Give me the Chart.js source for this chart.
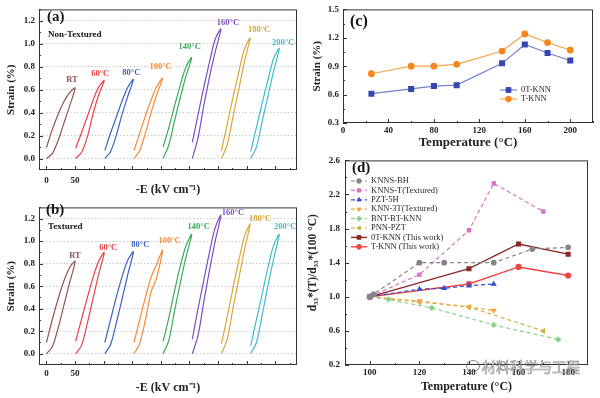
<!DOCTYPE html>
<html>
<head>
<meta charset="utf-8">
<script src="https://cdn.jsdelivr.net/npm/chart.js@4.4.1/dist/chart.umd.min.js"></script>
<style>
    body { margin: 0; background: #fff; overflow: hidden; }
    #fig { position: relative; width: 600px; height: 398px; overflow: hidden; background: #fff; }
    #fig canvas { position: absolute; }
    .wm { position: absolute; left: 482px; top: 356px; font: 14px "Noto Sans CJK SC", sans-serif;
          color: rgba(255,255,255,0.55); -webkit-text-stroke: 0.6px rgba(90,90,90,0.75); letter-spacing: 0px; }
    .wm-icon { position: absolute; left: 466px; top: 360px; width: 12px; height: 10px;
               border: 1px solid rgba(90,90,90,0.7); border-radius: 50%; }
</style>
</head>
<body>
<div id="fig">
    <canvas id="chartA" width="300" height="198" style="left:0;top:0"></canvas>
    <canvas id="chartB" width="300" height="200" style="left:0;top:198px"></canvas>
    <canvas id="chartC" width="300" height="150" style="left:300px;top:0"></canvas>
    <canvas id="chartD" width="300" height="248" style="left:300px;top:150px"></canvas>
    <div class="wm-icon"></div>
    <div class="wm">材料科学与工程</div>
</div>
<script>
// ---- (a)/(b) unipolar strain loops, one per temperature, shifted along E ----
const loopLabels = ['RT', '60°C', '80°C', '100°C', '140°C', '160°C', '180°C', '200°C'];
const loopShift = [0, 51, 102, 153, 204, 255, 306, 357];
const fieldUp = [0, 10, 20, 30, 40, 50];
const fieldDown = [40, 30, 20, 10, 0];

// non-textured
const strainUpA = [
    [0, 0.04, 0.15, 0.30, 0.45, 0.615],
    [0, 0.05, 0.18, 0.38, 0.55, 0.68],
    [0, 0.06, 0.20, 0.38, 0.54, 0.69],
    [0, 0.07, 0.22, 0.40, 0.56, 0.70],
    [0, 0.12, 0.33, 0.53, 0.72, 0.88],
    [0, 0.18, 0.46, 0.71, 0.93, 1.13],
    [0, 0.12, 0.36, 0.60, 0.84, 1.05],
    [0, 0.10, 0.32, 0.54, 0.76, 0.96]
];
const strainDownA = [
    [0.57, 0.49, 0.38, 0.25, 0.095],
    [0.62, 0.50, 0.36, 0.22, 0.09],
    [0.62, 0.50, 0.36, 0.22, 0.07],
    [0.63, 0.51, 0.37, 0.22, 0.07],
    [0.80, 0.64, 0.46, 0.27, 0.10],
    [1.04, 0.84, 0.62, 0.38, 0.14],
    [0.95, 0.75, 0.53, 0.30, 0.07],
    [0.87, 0.68, 0.48, 0.27, 0.06]
];
// textured
const strainUpB = [
    [0, 0.06, 0.22, 0.42, 0.62, 0.82],
    [0, 0.07, 0.26, 0.48, 0.70, 0.90],
    [0, 0.08, 0.27, 0.48, 0.70, 0.905],
    [0, 0.09, 0.30, 0.55, 0.68, 0.92],
    [0, 0.12, 0.38, 0.63, 0.86, 1.06],
    [0, 0.16, 0.46, 0.74, 1.00, 1.23],
    [0, 0.13, 0.40, 0.66, 0.92, 1.15],
    [0, 0.10, 0.34, 0.60, 0.84, 1.06]
];
const strainDownB = [
    [0.76, 0.64, 0.48, 0.30, 0.10],
    [0.82, 0.67, 0.49, 0.30, 0.11],
    [0.83, 0.68, 0.50, 0.30, 0.10],
    [0.80, 0.68, 0.50, 0.30, 0.10],
    [0.96, 0.78, 0.56, 0.32, 0.11],
    [1.12, 0.90, 0.65, 0.40, 0.13],
    [1.04, 0.82, 0.58, 0.33, 0.09],
    [0.96, 0.76, 0.53, 0.30, 0.07]
];
const loopTicksX = [0, 50];
const loopTicksY = [0, 0.2, 0.4, 0.6, 0.8, 1.0, 1.2];

// ---- (c) peak strain vs temperature ----
const tempC = [25, 60, 80, 100, 140, 160, 180, 200];
const strain0T = [0.61, 0.66, 0.69, 0.70, 0.93, 1.13, 1.04, 0.96];
const strainT = [0.82, 0.90, 0.90, 0.92, 1.06, 1.24, 1.15, 1.07];
const ticksCX = [0, 40, 80, 120, 160, 200];
const ticksCY = [0.3, 0.6, 0.9, 1.2, 1.5];

// ---- (d) normalised d33* vs temperature ----
const knnsBhT = [100, 101.5, 120, 130, 150, 165.5, 180];
const knnsBh = [1.00, 1.03, 1.40, 1.40, 1.40, 1.56, 1.58];
const knnsTT = [100, 120, 140, 150, 170];
const knnsT = [1.00, 1.26, 1.78, 2.33, 2.00];
const pzt5hT = [100, 120, 130, 140, 150];
const pzt5h = [1.00, 1.09, 1.10, 1.13, 1.15];
const knn3tT = [100, 120, 140, 150];
const knn3t = [1.00, 0.95, 0.88, 0.84];
const bntT = [100, 107.5, 125, 150, 176];
const bnt = [1.00, 0.97, 0.87, 0.67, 0.50];
const pnnT = [100, 120, 140, 170];
const pnn = [1.00, 0.94, 0.88, 0.60];
const ot0T = [100, 140, 160, 180];
const ot0 = [1.00, 1.33, 1.62, 1.50];
const tknnT = [100, 140, 160, 180];
const tknn = [1.00, 1.15, 1.35, 1.25];
const ticksDX = [100, 120, 140, 160, 180];
const ticksDY = [0.2, 0.6, 1.0, 1.4, 1.8, 2.2, 2.6];

// ---- styles ----
const SERIF = '"Liberation Serif", "Times New Roman", serif';
const loopColors = ['#8f5550', '#e8434a', '#3a62c0', '#f58a3a', '#3aaa5a', '#7a4fc0', '#d6a838', '#40bccc'];
const tagOffsetA = [[-3, -8], [-4, -7], [-2, -7], [-2, -11], [-2, -11], [7, -6], [9, -8], [4, -6]];
const tagOffsetB = [[0, -6], [4, -5], [7, -7], [7, -9], [7, -8], [12, -2], [10, -5], [6, -8]];

Chart.defaults.font.family = SERIF;
Chart.defaults.color = '#222';

const xy = (xs, ys) => xs.map((v, i) => ({x: v, y: ys[i]}));
const setTicks = arr => scale => { scale.ticks = arr.map(v => ({value: v})); };

// frame round the plot area, with inward major/minor ticks on bottom and left
const boxPlugin = {
    id: 'box',
    afterDraw(chart, args, o) {
        const {ctx, chartArea: a} = chart;
        const x = chart.scales.x, y = chart.scales.y;
        ctx.save();
        ctx.strokeStyle = '#333';
        ctx.lineWidth = 1;
        ctx.strokeRect(a.left + 0.5, a.top + 0.5, a.right - a.left - 1, a.bottom - a.top - 1);
        ctx.beginPath();
        for (let i = 0; i < 200; i++) {
            const v = o.xStart + i * o.xStep;
            if (v > x.max + 1e-9) break;
            if (v < x.min) continue;
            const px = Math.round(x.getPixelForValue(v)) + 0.5;
            const len = i % 2 === 0 ? 4 : 2;
            ctx.moveTo(px, a.bottom);
            ctx.lineTo(px, a.bottom - len);
        }
        for (let i = 0; i < 200; i++) {
            const v = o.yStart + i * o.yStep;
            if (v > y.max + 1e-9) break;
            if (v < y.min) continue;
            const py = Math.round(y.getPixelForValue(v)) + 0.5;
            const len = i % 2 === 0 ? 4 : 2;
            ctx.moveTo(a.left, py);
            ctx.lineTo(a.left + len, py);
        }
        ctx.stroke();
        ctx.restore();
    }
};

const notePlugin = {
    id: 'notes',
    afterDraw(chart, args, o) {
        const ctx = chart.ctx;
        ctx.save();
        ctx.textAlign = 'left';
        ctx.textBaseline = 'middle';
        (o.items || []).forEach(it => {
            ctx.font = it.font;
            ctx.fillStyle = '#151515';
            ctx.fillText(it.text, it.x, it.y);
        });
        ctx.restore();
    }
};

// temperature tag next to each loop's tip
const tagPlugin = {
    id: 'tags',
    afterDatasetsDraw(chart, args, o) {
        if (!o.offsets) return;
        const {ctx, scales: {x, y}} = chart;
        ctx.save();
        ctx.font = 'bold 8.5px ' + SERIF;
        ctx.textAlign = 'center';
        ctx.textBaseline = 'middle';
        chart.data.datasets.forEach((ds, i) => {
            const tip = ds.data[fieldUp.length - 1];
            ctx.fillStyle = ds.borderColor;
            ctx.fillText(ds.label, x.getPixelForValue(tip.x) + o.offsets[i][0],
                y.getPixelForValue(tip.y) + o.offsets[i][1]);
        });
        ctx.restore();
    }
};

const keyPlugin = {
    id: 'key',
    afterDraw(chart, args, o) {
        if (o.x === undefined) return;
        const ctx = chart.ctx;
        ctx.save();
        ctx.font = o.font;
        ctx.textBaseline = 'middle';
        ctx.textAlign = 'left';
        chart.data.datasets.forEach((ds, i) => {
            const yy = o.y + i * o.dy;
            ctx.strokeStyle = ds.borderColor;
            ctx.lineWidth = ds.borderWidth;
            ctx.setLineDash(ds.borderDash || []);
            ctx.beginPath();
            ctx.moveTo(o.x, yy);
            ctx.lineTo(o.x + o.len, yy);
            ctx.stroke();
            ctx.setLineDash([]);
            ctx.fillStyle = ds.pointBackgroundColor || ds.borderColor;
            ctx.strokeStyle = ds.pointBorderColor || ds.borderColor;
            ctx.lineWidth = 1;
            if (Chart.helpers && Chart.helpers.drawPoint) {
                Chart.helpers.drawPoint(ctx, {pointStyle: ds.pointStyle, rotation: ds.pointRotation || 0,
                    radius: ds.pointRadius, borderWidth: 1}, o.x + o.len / 2, yy);
            }
            ctx.fillStyle = '#2a2a2a';
            ctx.fillText(ds.label, o.x + o.len + o.gap, yy);
        });
        ctx.restore();
    }
};

function tickFont() { return {size: 9, weight: 'bold'}; }

function loopChart(id, up, down, offsets, notes, padTop, xPad, xTitlePad) {
    const datasets = loopLabels.map((lab, i) => ({
        label: lab,
        data: xy(fieldUp.map(e => loopShift[i] + e), up[i])
            .concat(xy(fieldDown.map(e => loopShift[i] + e), down[i])),
        borderColor: loopColors[i],
        borderWidth: 1.2,
        pointRadius: 0,
        showLine: true,
        tension: 0.3
    }));
    const canvas = document.getElementById(id);
    return new Chart(canvas, {
        type: 'scatter',
        data: {datasets},
        plugins: [boxPlugin, notePlugin, tagPlugin],
        options: {
            responsive: false,
            animation: false,
            layout: {padding: {top: padTop, right: 3, left: 0, bottom: 0}},
            plugins: {
                legend: {display: false},
                tooltip: {enabled: false},
                box: {xStart: 0, xStep: 25, yStart: 0, yStep: 0.1},
                notes: {items: notes},
                tags: {offsets}
            },
            scales: {
                x: {
                    type: 'linear', min: -13, max: 438,
                    afterBuildTicks: setTicks(loopTicksX),
                    afterFit: s => { s.height = canvas.height - padTop - (id === 'chartA' ? 162 : 166); },
                    grid: {display: false, drawTicks: false},
                    border: {display: false},
                    ticks: {font: tickFont(), padding: xPad, autoSkip: false, maxRotation: 0},
                    title: {display: true, text: '-E (kV cm⁻¹)', font: {size: 12, weight: 'bold'},
                        padding: {top: 0, bottom: xTitlePad}}
                },
                y: {
                    min: -0.1, max: 1.3,
                    afterBuildTicks: setTicks(loopTicksY),
                    afterFit: s => { s.width = 39; },
                    grid: {display: true, drawTicks: false, color: '#bdbdbd', lineWidth: 0.8},
                    border: {display: false, dash: [1.5, 2]},
                    ticks: {font: tickFont(), padding: 4, autoSkip: false, callback: v => v.toFixed(1)},
                    title: {display: true, text: 'Strain (%)', font: {size: 11, weight: 'bold'},
                        padding: {top: 5, bottom: 0}}
                }
            }
        }
    });
}

loopChart('chartA', strainUpA, strainDownA, tagOffsetA, [
    {text: '(a)', x: 47, y: 17, font: 'bold 15px ' + SERIF},
    {text: 'Non-Textured', x: 48, y: 35, font: 'bold 9px ' + SERIF}
], 8, 5, 1);

loopChart('chartB', strainUpB, strainDownB, tagOffsetB, [
    {text: '(b)', x: 46, y: 12, font: 'bold 15px ' + SERIF},
    {text: 'Textured', x: 48, y: 29, font: 'bold 9px ' + SERIF}
], 1, 3, 3);

// ---- (c) ----
new Chart(document.getElementById('chartC'), {
    type: 'scatter',
    data: {
        datasets: [
            {label: '0T-KNN', data: xy(tempC, strain0T), showLine: true, borderColor: '#6f80d2',
             borderWidth: 1.2, pointStyle: 'rect', pointRadius: 3.4, pointBackgroundColor: '#3346b0',
             pointBorderColor: '#3346b0'},
            {label: 'T-KNN', data: xy(tempC, strainT), showLine: true, borderColor: '#f7a64a',
             borderWidth: 1.2, pointStyle: 'circle', pointRadius: 2.8, pointBackgroundColor: '#f5861e',
             pointBorderColor: '#f5861e'}
        ]
    },
    plugins: [boxPlugin, notePlugin, keyPlugin],
    options: {
        responsive: false,
        animation: false,
        layout: {padding: {top: 7, right: 7, left: 0, bottom: 0}},
        plugins: {
            legend: {display: false},
            tooltip: {enabled: false},
            box: {xStart: 0, xStep: 20, yStart: 0.3, yStep: 0.15},
            notes: {items: [{text: '(c)', x: 50, y: 22, font: 'bold 16px ' + SERIF}]},
            key: {x: 200, y: 90, dy: 9, len: 17, gap: 4, font: '8.5px ' + SERIF}
        },
        scales: {
            x: {
                type: 'linear', min: 0, max: 220,
                afterBuildTicks: setTicks(ticksCX),
                afterFit: s => { s.height = 27; },
                grid: {display: false, drawTicks: false},
                border: {display: false},
                ticks: {font: tickFont(), padding: 2, autoSkip: false, maxRotation: 0},
                title: {display: true, text: 'Temperature (°C)', font: {size: 13, weight: 'bold'},
                    padding: {top: 0, bottom: 0}}
            },
            y: {
                min: 0.3, max: 1.5,
                afterBuildTicks: setTicks(ticksCY),
                afterFit: s => { s.width = 43; },
                grid: {display: false, drawTicks: false},
                border: {display: false},
                ticks: {font: tickFont(), padding: 4, autoSkip: false, callback: v => v.toFixed(1)},
                title: {display: true, text: 'Strain (%)', font: {size: 11, weight: 'bold'},
                    padding: {top: 11, bottom: 0}}
            }
        }
    }
});

// ---- (d) ----
function refSeries(label, xs, ys, color, style, rot) {
    return {label, data: xy(xs, ys), showLine: true, borderColor: color, borderWidth: 1.2,
        borderDash: [4, 3], pointStyle: style, pointRotation: rot || 0, pointRadius: 2.3,
        pointBackgroundColor: color, pointBorderColor: color};
}

new Chart(document.getElementById('chartD'), {
    type: 'scatter',
    data: {
        datasets: [
            refSeries('KNNS-BH', knnsBhT, knnsBh, '#858585', 'circle'),
            refSeries('KNNS-T(Textured)', knnsTT, knnsT, '#d674c6', 'rect'),
            refSeries('PZT-5H', pzt5hT, pzt5h, '#3352cf', 'triangle'),
            refSeries('KNN-3T(Textured)', knn3tT, knn3t, '#f5a542', 'triangle', 180),
            refSeries('BNT-BT-KNN', bntT, bnt, '#85d285', 'rectRot'),
            refSeries('PNN-PZT', pnnT, pnn, '#c9b446', 'triangle', -90),
            {label: '0T-KNN (This work)', data: xy(ot0T, ot0), showLine: true, borderColor: '#8b2828',
             borderWidth: 1.4, pointStyle: 'rect', pointRadius: 2.6, pointBackgroundColor: '#8b2828',
             pointBorderColor: '#8b2828'},
            {label: 'T-KNN (This work)', data: xy(tknnT, tknn), showLine: true, borderColor: '#ef4545',
             borderWidth: 1.4, pointStyle: 'circle', pointRadius: 2.4, pointBackgroundColor: '#ef4545',
             pointBorderColor: '#ef4545'}
        ]
    },
    plugins: [boxPlugin, notePlugin, keyPlugin],
    options: {
        responsive: false,
        animation: false,
        layout: {padding: {top: 9, right: 12, left: 0, bottom: 0}},
        plugins: {
            legend: {display: false},
            tooltip: {enabled: false},
            box: {xStart: 100, xStep: 10, yStart: 0.2, yStep: 0.2},
            notes: {items: [{text: '(d)', x: 52, y: 18, font: 'bold 15px ' + SERIF}]},
            key: {x: 51, y: 31, dy: 9.4, len: 16, gap: 4, font: '8.5px ' + SERIF}
        },
        scales: {
            x: {
                type: 'linear', min: 90, max: 188,
                afterBuildTicks: setTicks(ticksDX),
                afterFit: s => { s.height = 33; },
                grid: {display: false, drawTicks: false},
                border: {display: false},
                ticks: {font: tickFont(), padding: 2, autoSkip: false, maxRotation: 0},
                title: {display: true, text: 'Temperature (°C)', font: {size: 12, weight: 'bold'},
                    padding: {top: 0, bottom: 4}}
            },
            y: {
                min: 0.2, max: 2.6,
                afterBuildTicks: setTicks(ticksDY),
                afterFit: s => { s.width = 45; },
                grid: {display: false, drawTicks: false},
                border: {display: false},
                ticks: {font: tickFont(), padding: 5, autoSkip: false, callback: v => v.toFixed(1)},
                title: {display: true, text: 'd₃₃*(T)/d₃₃*(100 °C)', font: {size: 11.5, weight: 'bold'},
                    padding: {top: 6, bottom: 0}}
            }
        }
    }
});
</script>
</body>
</html>
